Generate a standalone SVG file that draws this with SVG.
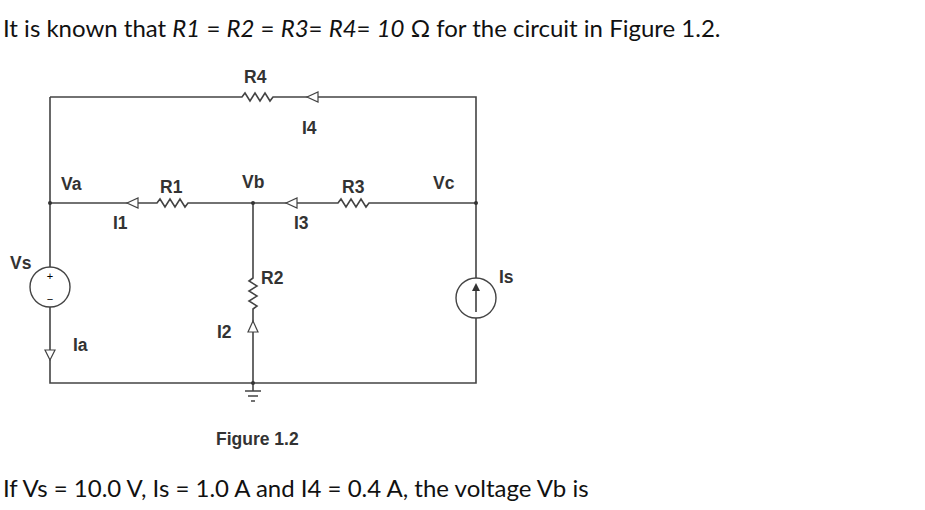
<svg xmlns="http://www.w3.org/2000/svg" width="925" height="510" viewBox="0 0 925 510">
<style>
.w{stroke:#444;stroke-width:1.6;fill:none}
.a{stroke:#444;stroke-width:1.2;fill:#fff}
.l{font-family:"Liberation Sans",Arial,sans-serif;font-weight:bold;font-size:17.5px;fill:#333}
.t{font-family:Lato,"Liberation Sans",sans-serif;font-size:24px;fill:#111}
</style>
<rect width="925" height="510" fill="#fff"/>
<text class="t" x="3" y="37">It is known that <tspan font-style="italic">R1</tspan> = <tspan font-style="italic">R2</tspan> = <tspan font-style="italic">R3</tspan>= <tspan font-style="italic">R4</tspan>= <tspan font-style="italic">10</tspan> Ω for the circuit in Figure 1.2.</text>
<g id="connectors">
<path class="w" d="M50 97H242l3-4 5 8 5-8 5 8 5-8 5 8 3-4H476V383H50V97"/>
<path class="w" d="M50 203H157l3-4 5 8 5-8 5 8 5-8 5 8 3-4H338l3-4 5 8 5-8 5 8 5-8 5 8 3-4H476"/>
<path class="w" d="M253 203V278l-4 3 8 5-8 5 8 5-8 5 8 5-4 3V383"/>
</g>
<g id="arrows">
<path class="a" d="M307 97l11-5v10z"/>
<path class="a" d="M127 203l11-5v10z"/>
<path class="a" d="M286 203l11-5v10z"/>
<path class="a" d="M253 321l-5 11h10z"/>
<path class="a" d="M50 360l-5-10h10z"/>
</g>
<g id="Vs"><circle cx="50" cy="287" r="20" fill="#fff" stroke="#444" stroke-width="1.4"/><text x="50" y="280" font-size="11" text-anchor="middle" font-family="Liberation Sans,sans-serif">+</text><text x="50" y="303" font-size="11" text-anchor="middle" font-family="Liberation Sans,sans-serif">−</text><text class="l" x="10" y="269">Vs</text></g>
<g id="Is"><circle cx="476" cy="298" r="20" fill="#fff" stroke="#444" stroke-width="1.4"/><path d="M476 312V288" stroke="#333" stroke-width="1.5"/><path d="M476 283l-4 8h8z" fill="#333"/><text class="l" x="499" y="283">Is</text></g>
<g id="gnd"><path d="M245 391h16M248 396h10M251 401h4" stroke="#444" stroke-width="1.4"/><path class="w" d="M253 383v8"/></g>
<g id="dots" fill="#333"><circle cx="50" cy="203" r="2"/><circle cx="253" cy="203" r="2"/><circle cx="476" cy="203" r="2"/><circle cx="253" cy="383" r="2"/></g>
<g id="labels">
<text class="l" x="244" y="83">R4</text>
<text class="l" x="302" y="134">I4</text>
<text class="l" x="61" y="190">Va</text>
<text class="l" x="160" y="193">R1</text>
<text class="l" x="242" y="188">Vb</text>
<text class="l" x="342" y="193">R3</text>
<text class="l" x="433" y="189">Vc</text>
<text class="l" x="113" y="229">I1</text>
<text class="l" x="294" y="229">I3</text>
<text class="l" x="261" y="284">R2</text>
<text class="l" x="217" y="338">I2</text>
<text class="l" x="73" y="351">Ia</text>
<text class="l" x="216" y="445">Figure 1.2</text>
</g>
<text class="t" x="3" y="497">If Vs = 10.0 V, Is = 1.0 A and I4 = 0.4 A, the voltage Vb is</text>
</svg>
